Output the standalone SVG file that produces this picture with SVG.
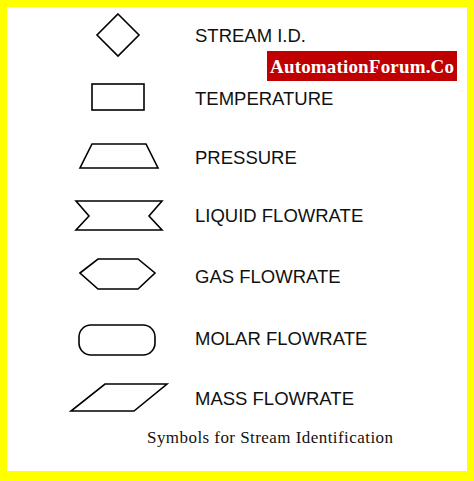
<svg xmlns="http://www.w3.org/2000/svg" width="474" height="481" viewBox="0 0 474 481">
<style>
.sym{fill:#fff;stroke:#000;stroke-width:1.6;stroke-linejoin:miter}
.lbl{font-family:"Liberation Sans",Arial,sans-serif;font-size:18.5px;fill:#111}
.cap{font-family:"Liberation Serif","Times New Roman",serif;font-size:17px;fill:#111}
.wm{font-family:"Liberation Serif","Times New Roman",serif;font-size:19px;font-weight:bold;fill:#fff}
</style>
<rect x="0" y="0" width="474" height="481" fill="#ffff00"/>
<rect x="7" y="7" width="460" height="464" fill="#fff"/>
<g id="stream-id">
<polygon class="sym" points="118,14 139,35 118,56 97,35"/>
<text class="lbl" x="195" y="42">STREAM I.D.</text>
</g>
<g id="watermark">
<rect x="267" y="51" width="190" height="30" fill="#c00000"/>
<text class="wm" x="362" y="73" text-anchor="middle" textLength="184">AutomationForum.Co</text>
</g>
<g id="temperature">
<rect class="sym" x="92" y="84" width="52" height="26"/>
<text class="lbl" x="195" y="105">TEMPERATURE</text>
</g>
<g id="pressure">
<polygon class="sym" points="92,144 146,144 158,168 80,168"/>
<text class="lbl" x="195" y="164">PRESSURE</text>
</g>
<g id="liquid-flowrate">
<polygon class="sym" points="76,201 162,201 149,216 162,230 76,230 89,216"/>
<text class="lbl" x="195" y="222">LIQUID FLOWRATE</text>
</g>
<g id="gas-flowrate">
<polygon class="sym" points="80,273 98,259 138,259 155,273 138,289 98,289"/>
<text class="lbl" x="195" y="283">GAS FLOWRATE</text>
</g>
<g id="molar-flowrate">
<rect class="sym" x="79" y="325" width="76" height="30" rx="12" ry="12"/>
<text class="lbl" x="195" y="345">MOLAR FLOWRATE</text>
</g>
<g id="mass-flowrate">
<polygon class="sym" points="105,384 167,384 134,411 71,411"/>
<text class="lbl" x="195" y="405">MASS FLOWRATE</text>
</g>
<g id="caption">
<text class="cap" x="147" y="443" textLength="246">Symbols for Stream Identification</text>
</g>
<g id="connectors"></g>
</svg>
